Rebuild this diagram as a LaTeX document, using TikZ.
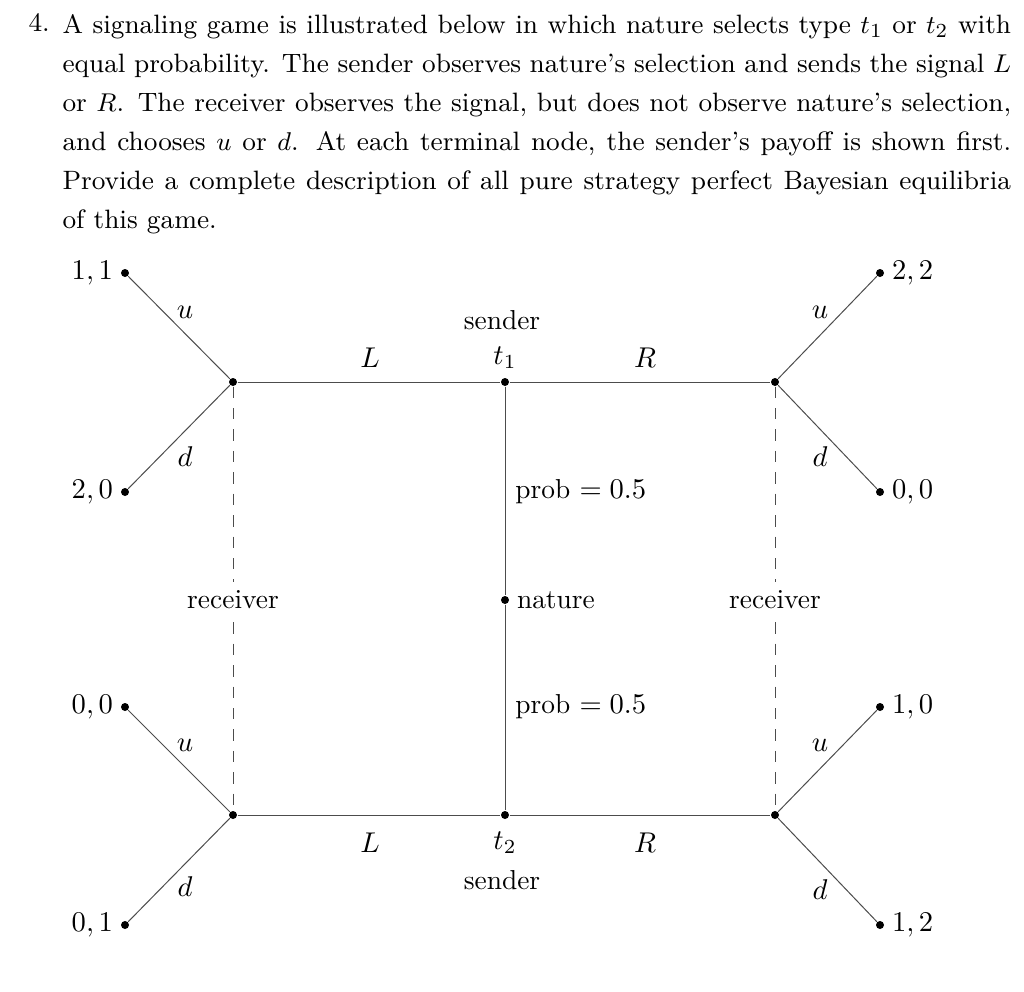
\documentclass[tikz,border=0pt]{standalone}
\usepackage{tikz}
\tikzset{
  dot/.style={circle,fill=black,inner sep=0pt,minimum size=2.8pt},
  edge/.style={draw=black!70,line width=0.35pt},
  info/.style={draw=black!70,line width=0.3pt,dash pattern=on 4pt off 3.5pt},
  lbl/.style={font=\fontsize{9.6}{13.65}\selectfont,inner sep=1pt},
  qtext/.style={font=\fontsize{9.3}{13.65}\selectfont,inner sep=0pt}
}
\begin{document}
\begin{tikzpicture}[x=0.35pt,y=-0.35pt]
	\useasboundingbox (0,0) rectangle (1024,992);

	% The question
	\node[qtext,anchor=base west] at (28,31) {4.};
	\node[qtext,anchor=north west,text width=332pt,align=justify] at (62,14)
	{A signaling game is illustrated below in which nature selects type $t_1$ or $t_2$ with equal probability. The sender observes nature's selection and sends the signal $L$ or $R$. The receiver observes the signal, but does not observe nature's selection, and chooses $u$ or $d$. At each terminal node, the sender's payoff is shown first. Provide a complete description of all pure strategy perfect Bayesian equilibria of this game.};

	% Decision nodes
	\node[dot] (t1) at (505,382) {};
	\node[dot] (t2) at (505,815) {};
	\node[dot] (nat) at (505,600) {};
	\node[dot] (lt) at (233,382) {};
	\node[dot] (lb) at (233,815) {};
	\node[dot] (rt) at (775,382) {};
	\node[dot] (rb) at (775,815) {};

	% Terminal nodes
	\node[dot] (z1) at (125,273) {};
	\node[dot] (z2) at (125,492) {};
	\node[dot] (z3) at (125,707) {};
	\node[dot] (z4) at (125,925) {};
	\node[dot] (z5) at (880,273) {};
	\node[dot] (z6) at (880,492) {};
	\node[dot] (z7) at (880,707) {};
	\node[dot] (z8) at (880,925) {};

	% Edges
	\draw[edge] (lt) -- (t1) -- (rt);
	\draw[edge] (lb) -- (t2) -- (rb);
	\draw[edge] (t1) -- (nat) -- (t2);
	\draw[edge] (z1) -- (lt) -- (z2);
	\draw[edge] (z3) -- (lb) -- (z4);
	\draw[edge] (z5) -- (rt) -- (z6);
	\draw[edge] (z7) -- (rb) -- (z8);

	% Information sets
	\draw[info] (lt) -- (lb);
	\draw[info] (rt) -- (rb);
	\node[lbl,fill=white,inner sep=3pt] at (233,600) {receiver};
	\node[lbl,fill=white,inner sep=3pt] at (775,600) {receiver};

	% Payoffs
	\node[lbl,left=3pt] at (z1) {$1,1$};
	\node[lbl,left=3pt] at (z2) {$2,0$};
	\node[lbl,left=3pt] at (z3) {$0,0$};
	\node[lbl,left=3pt] at (z4) {$0,1$};
	\node[lbl,right=3pt] at (z5) {$2,2$};
	\node[lbl,right=3pt] at (z6) {$0,0$};
	\node[lbl,right=3pt] at (z7) {$1,0$};
	\node[lbl,right=3pt] at (z8) {$1,2$};

	% Action labels
	\node[lbl] at (185,312) {$u$};
	\node[lbl] at (185,457) {$d$};
	\node[lbl] at (185,745) {$u$};
	\node[lbl] at (185,887) {$d$};
	\node[lbl] at (820,312) {$u$};
	\node[lbl] at (820,457) {$d$};
	\node[lbl] at (820,745) {$u$};
	\node[lbl] at (820,890) {$d$};
	\node[lbl] at (370,358) {$L$};
	\node[lbl] at (645,358) {$R$};
	\node[lbl] at (370,843) {$L$};
	\node[lbl] at (645,843) {$R$};

	% Nature and sender
	\node[lbl] at (502,320) {sender};
	\node[lbl] at (505,358) {$t_1$};
	\node[lbl] at (505,843) {$t_2$};
	\node[lbl] at (502,880) {sender};
	\node[lbl,right=3pt] at (nat) {nature};
	\node[lbl,anchor=west] at (512,492) {prob $=0.5$};
	\node[lbl,anchor=west] at (512,707) {prob $=0.5$};

\end{tikzpicture}
\end{document}
